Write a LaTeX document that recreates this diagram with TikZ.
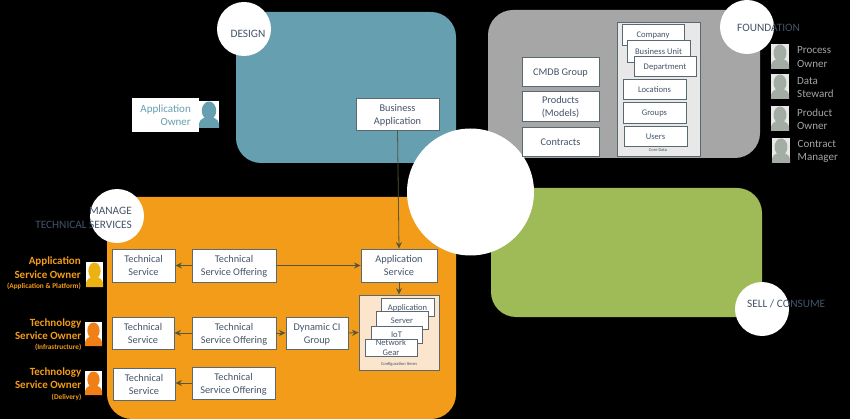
\documentclass[tikz,border=0pt]{standalone}
\usepackage{fontspec}
\setmainfont{Carlito}
\usetikzlibrary{arrows.meta}
\definecolor{txt}{HTML}{44546A}
\definecolor{edgeC}{HTML}{5A6870}
\definecolor{teal1}{HTML}{669FB0}
\definecolor{gray1}{HTML}{A6A6A6}
\definecolor{green1}{HTML}{9FBB58}
\definecolor{orange1}{HTML}{F39C19}
\definecolor{peach}{HTML}{FBE5CD}
\definecolor{core}{HTML}{E8E8E8}
\definecolor{arrowC}{HTML}{55563A}
\definecolor{yellowP}{HTML}{EDB111}
\definecolor{orangeP}{HTML}{F07F16}
\definecolor{grayP}{HTML}{A3ADA4}
\definecolor{ownerT}{HTML}{F39C19}
\definecolor{grayT}{HTML}{A5A5A5}
\tikzset{
  panel/.style={rounded corners=25pt},
  whitebox/.style={draw=edgeC,line width=0.9pt,fill=white,text=txt,inner sep=0pt,font=\fontsize{10.3}{13}\selectfont},
  tinybox/.style={whitebox,font=\fontsize{8.6}{10}\selectfont},
  badge/.style={fill=white,draw=none},
  heading/.style={text=txt,font=\fontsize{11.3}{14}\selectfont,inner sep=0pt},
  owner/.style={text=ownerT,align=right,anchor=east,inner sep=0pt,font=\bfseries\fontsize{11}{13.5}\selectfont},
  ownersmall/.style={owner,font=\bfseries\fontsize{7.3}{8}\selectfont},
  foundperson/.style={text=grayT,align=left,anchor=west,inner sep=0pt,font=\fontsize{11}{13.5}\selectfont},
  flow/.style={draw=arrowC,line width=0.8pt,-{Stealth[length=6.5pt,width=6pt]}},
}
% #1 left, #2 top, #3 width, #4 height, #5 colour, #6 background
\newcommand{\personicon}[6]{%
  \fill[#6] (#1,#2) rectangle ++(#3,#4);
  \fill[#5] ({#1+0.5*#3},{#2+0.36*#4}) ellipse ({0.36*#3} and {0.34*#4});
  \fill[#5] (#1,{#2+#4}) -- (#1,{#2+0.84*#4}) .. controls ({#1+0.05*#3},{#2+0.66*#4}) and ({#1+0.25*#3},{#2+0.6*#4}) .. ({#1+0.5*#3},{#2+0.6*#4}) .. controls ({#1+0.75*#3},{#2+0.6*#4}) and ({#1+0.95*#3},{#2+0.66*#4}) .. ({#1+#3},{#2+0.84*#4}) -- ({#1+#3},{#2+#4}) -- cycle;
}
% [style] name, left, top, right, bottom, text
\newcommand{\bx}[7][whitebox]{%
  \node[#1,minimum width={(#5-#3)*1pt},minimum height={(#6-#4)*1pt}] (#2) at ({(#3+#5)/2},{(#4+#6)/2}) {\raisebox{-3.6pt}[0pt][0pt]{\begin{tabular}{@{}c@{}}#7\end{tabular}}};
}
\begin{document}
\begin{tikzpicture}[x=1pt,y=-1pt]
\useasboundingbox (0,0) rectangle (850,419);
\fill[black] (0,0) rectangle (850,419);
% panels
\fill[teal1,panel] (236,12) rectangle (456,163);
\fill[gray1,panel] (488,10) rectangle (760,158);
\fill[green1,panel] (491,188) rectangle (762,317);
\fill[orange1,panel] (107,197) rectangle (456,419);
% circles
\node[badge,circle,minimum size=127pt,inner sep=0pt] (hub) at (470.5,192) {};
\node[badge,circle,minimum size=54pt,inner sep=0pt] (cdesign) at (244,29) {};
\node[badge,circle,minimum size=54pt,inner sep=0pt] (cfound) at (747,27) {};
\node[badge,circle,minimum size=54pt,inner sep=0pt] (cmanage) at (117,216) {};
\node[badge,circle,minimum size=54pt,inner sep=0pt] (csell) at (762,309) {};
% headings
\node[heading] (hdesign) at (248,34) {DESIGN};
\node[heading,anchor=west] (hfound) at (737,28) {FOUNDATION};
\node[heading,anchor=west] (hsell) at (747,303.5) {SELL / CONSUME};
\node[heading,anchor=east] (hm1) at (132,211) {MANAGE};
\node[heading,anchor=east] (hm2) at (132,225) {TECHNICAL SERVICES};
% application owner
\node[fill=white,minimum width=67pt,minimum height=34pt,inner sep=0pt] (aobox) at (165.5,115) {};
\node[text=teal1,align=right,anchor=east,inner sep=0pt,font=\fontsize{11}{13.5}\selectfont] (aotext) at (191,115) {Application\\Owner};
\personicon{199}{101}{20}{27}{teal1}{white}
% design
\bx{ba}{356}{98}{439}{130}{Business\\Application}
% foundation left
\bx{cmdb}{522}{57}{599}{86}{CMDB Group}
\bx{prod}{522}{91}{599}{121}{Products\\(Models)}
\bx{contr}{522}{127}{599}{156}{Contracts}
% core data
\node[draw=edgeC,line width=0.9pt,fill=core,minimum width=83pt,minimum height=134pt,inner sep=0pt] (core) at (658.5,89) {};
\bx[tinybox]{comp}{622}{24}{684}{45}{Company}
\bx[tinybox]{bu}{627}{40}{690}{62}{Business Unit}
\bx[tinybox]{dept}{634}{56}{696}{76}{Department}
\bx[tinybox]{loc}{623}{79}{686}{99}{Locations}
\bx[tinybox]{grp}{623}{102}{686}{123}{Groups}
\bx[tinybox]{usr}{624}{126}{687}{146}{Users}
\node[text=txt,inner sep=0pt,font=\fontsize{4.5}{5}\selectfont] (corelbl) at (658,150.5) {Core Data};
% foundation persons
\personicon{771}{44}{18}{25}{grayP}{core}
\personicon{771}{74}{18}{25}{grayP}{core}
\personicon{771}{106}{18}{25}{grayP}{core}
\personicon{772}{138}{18}{25}{grayP}{core}
\node[foundperson] (p1) at (797,57) {Process\\Owner};
\node[foundperson] (p2) at (797,87.5) {Data\\Steward};
\node[foundperson] (p3) at (797,119) {Product\\Owner};
\node[foundperson] (p4) at (797.5,151.5) {Contract\\Manager};
% manage boxes
\bx{ts1}{112}{249}{175}{282}{Technical\\Service}
\bx{tso1}{192}{249}{276}{282}{Technical\\Service Offering}
\bx{appsvc}{361}{249}{437}{282}{Application\\Service}
\bx{ts2}{112}{317}{174}{349}{Technical\\Service}
\bx{tso2}{192}{317}{276}{349}{Technical\\Service Offering}
\bx{dyn}{286}{317}{348}{349}{Dynamic CI\\Group}
\bx{ts3}{113}{368}{175}{400}{Technical\\Service}
\bx{tso3}{192}{367}{275}{399}{Technical\\Service Offering}
% configuration items
\node[draw=edgeC,line width=0.9pt,fill=peach,minimum width=80pt,minimum height=75pt,inner sep=0pt] (cfg) at (399,332.5) {};
\bx[tinybox]{ci1}{381}{298}{434}{316}{Application}
\bx[tinybox]{ci2}{376}{311}{428}{329}{Server}
\bx[tinybox]{ci3}{371}{326}{422}{343}{IoT}
\bx[tinybox]{ci4}{365}{339}{417}{356}{Network\\Gear}
\node[text=txt,inner sep=0pt,font=\fontsize{4.5}{5}\selectfont] (cfglbl) at (399,364) {Configuration Items};
% connectors
\draw[flow] (ba.south) -- (appsvc.north);
\draw[flow] (appsvc.south) -- (cfg.north);
\draw[flow] (tso1.west) -- (ts1.east);
\draw[flow] (tso1.east) -- (appsvc.west);
\draw[flow] (tso2.west) -- (ts2.east);
\draw[flow] (tso2.east) -- (dyn.west);
\draw[flow] (dyn.east) -- (cfg.west);
\draw[flow] (tso3.west) -- (ts3.east |- tso3.west);
% service owners
\personicon{86}{262}{17}{25}{yellowP}{white}
\personicon{85}{322}{17}{24}{orangeP}{white}
\personicon{85}{371}{17}{24}{orangeP}{white}
\node[owner] (o1) at (81,267.5) {Application\\Service Owner};
\node[ownersmall] (o1s) at (81,286) {(Application \& Platform)};
\node[owner] (o2) at (81.5,329) {Technology\\Service Owner};
\node[ownersmall] (o2s) at (81.5,347.5) {(Infrastructure)};
\node[owner] (o3) at (81.5,378) {Technology\\Service Owner};
\node[ownersmall] (o3s) at (81.5,397) {(Delivery)};
\end{tikzpicture}
\end{document}
